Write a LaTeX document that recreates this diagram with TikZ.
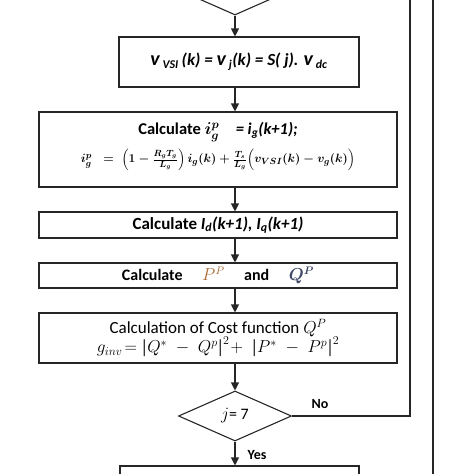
\documentclass[tikz,border=0pt]{standalone}
\usepackage{amsmath}
\usepackage{fontspec}
\setmainfont{Carlito}
\usetikzlibrary{shapes.geometric,arrows.meta}
\definecolor{pcol}{HTML}{A86A30}
\definecolor{qcol}{HTML}{3F4A66}
\begin{document}
\begin{tikzpicture}[x=1pt,y=-1pt,
  line width=1.1pt, draw=black!85,
  box/.style={draw, rectangle, inner sep=0pt, align=center},
  dia/.style={draw, diamond, inner sep=0pt},
  arr/.style={-{Triangle[length=8pt,width=8pt]}},
  lbl/.style={font=\fontsize{14}{16}\selectfont\bfseries, inner sep=0pt}]
\useasboundingbox (0,0) rectangle (474,474);
\clip (0,0) rectangle (474,474);
\coordinate (ax) at (235,0);
\node[dia, minimum width=113pt, minimum height=50pt] (d1) at (235,-10) {};
\node[box, minimum width=240pt, minimum height=50pt, font=\fontsize{17}{20}\selectfont\bfseries\itshape] (b1) at (239,62)
  {{\fontsize{20}{20}\selectfont v}\,\textsubscript{VSI}\,(k) = {\fontsize{20}{20}\selectfont v}\,\textsubscript{j}(k) = S( j). {\fontsize{20}{20}\selectfont v}\,\textsubscript{dc}};
\node[box, minimum width=358pt, minimum height=75pt, font=\fontsize{16.5}{18}\selectfont] (b2) at (218,149.5)
  {{\bfseries Calculate} {\boldmath$i_g^{p}$}\quad {\bfseries\itshape = i\textsubscript{g}(k+1);}\\[6pt]
   {\fontsize{12.5}{14}\selectfont\boldmath$i_g^{p}\;\;=\;\left(1-\tfrac{R_gT_g}{L_g}\right) i_g(k) + \tfrac{T_s}{L_g}\Bigl(v_{VSI}(k)-v_g(k)\Bigr)$}\\[-4pt]};
\node[box, minimum width=358pt, minimum height=26pt, font=\fontsize{17}{20}\selectfont\bfseries] (b3) at (218,225)
  {Calculate {\itshape I\textsubscript{d}(k+1), I\textsubscript{q}(k+1)}};
\node[box, minimum width=358pt, minimum height=25pt, font=\fontsize{16}{18}\selectfont\bfseries] (b4) at (218,275.5)
  {Calculate\quad\ \textcolor{pcol}{$P^{P}$}\quad\ and\quad\ \textcolor{qcol}{\boldmath$Q^{P}$}};
\node[box, minimum width=358pt, minimum height=50pt, font=\fontsize{17}{18}\selectfont] (b5) at (218,338)
  {Calculation of Cost function $Q^{P}$\\[-1pt]
   {\fontsize{18}{18}\selectfont$g_{inv}\!=\boldsymbol{|}Q^{*}\;-\;Q^{p}\boldsymbol{|}^{2}\!+\;\boldsymbol{|}P^{*}\;-\;P^{p}\boldsymbol{|}^{2}$}};
\node[dia, minimum width=113pt, minimum height=50pt, font=\fontsize{16}{18}\selectfont] (d2) at (235,416) {$j$= 7};
\node[box, minimum width=239pt, minimum height=60pt] (b6) at (239.5,496) {};
\node[lbl] (no) at (320,404) {No};
\node[lbl] (yes) at (257,455) {Yes};
\draw[arr] (d1.south) -- (b1.north -| d1.south);
\draw[arr] (b1.south -| ax) -- (b2.north -| ax);
\draw[arr] (b2.south -| ax) -- (b3.north -| ax);
\draw[arr] (b3.south -| ax) -- (b4.north -| ax);
\draw[arr] (b4.south -| ax) -- (b5.north -| ax);
\draw[arr] (b5.south -| ax) -- (d2.north);
\draw[arr] (d2.south) -- (b6.north -| ax);
\coordinate (lp1) at (410,416);
\coordinate (lp2) at (410,-5);
\draw (d2.east) -- (lp1) -- (lp2);
\coordinate (o1) at (433,-5);
\coordinate (o2) at (433,480);
\draw (o1) -- (o2);
\end{tikzpicture}
\end{document}
